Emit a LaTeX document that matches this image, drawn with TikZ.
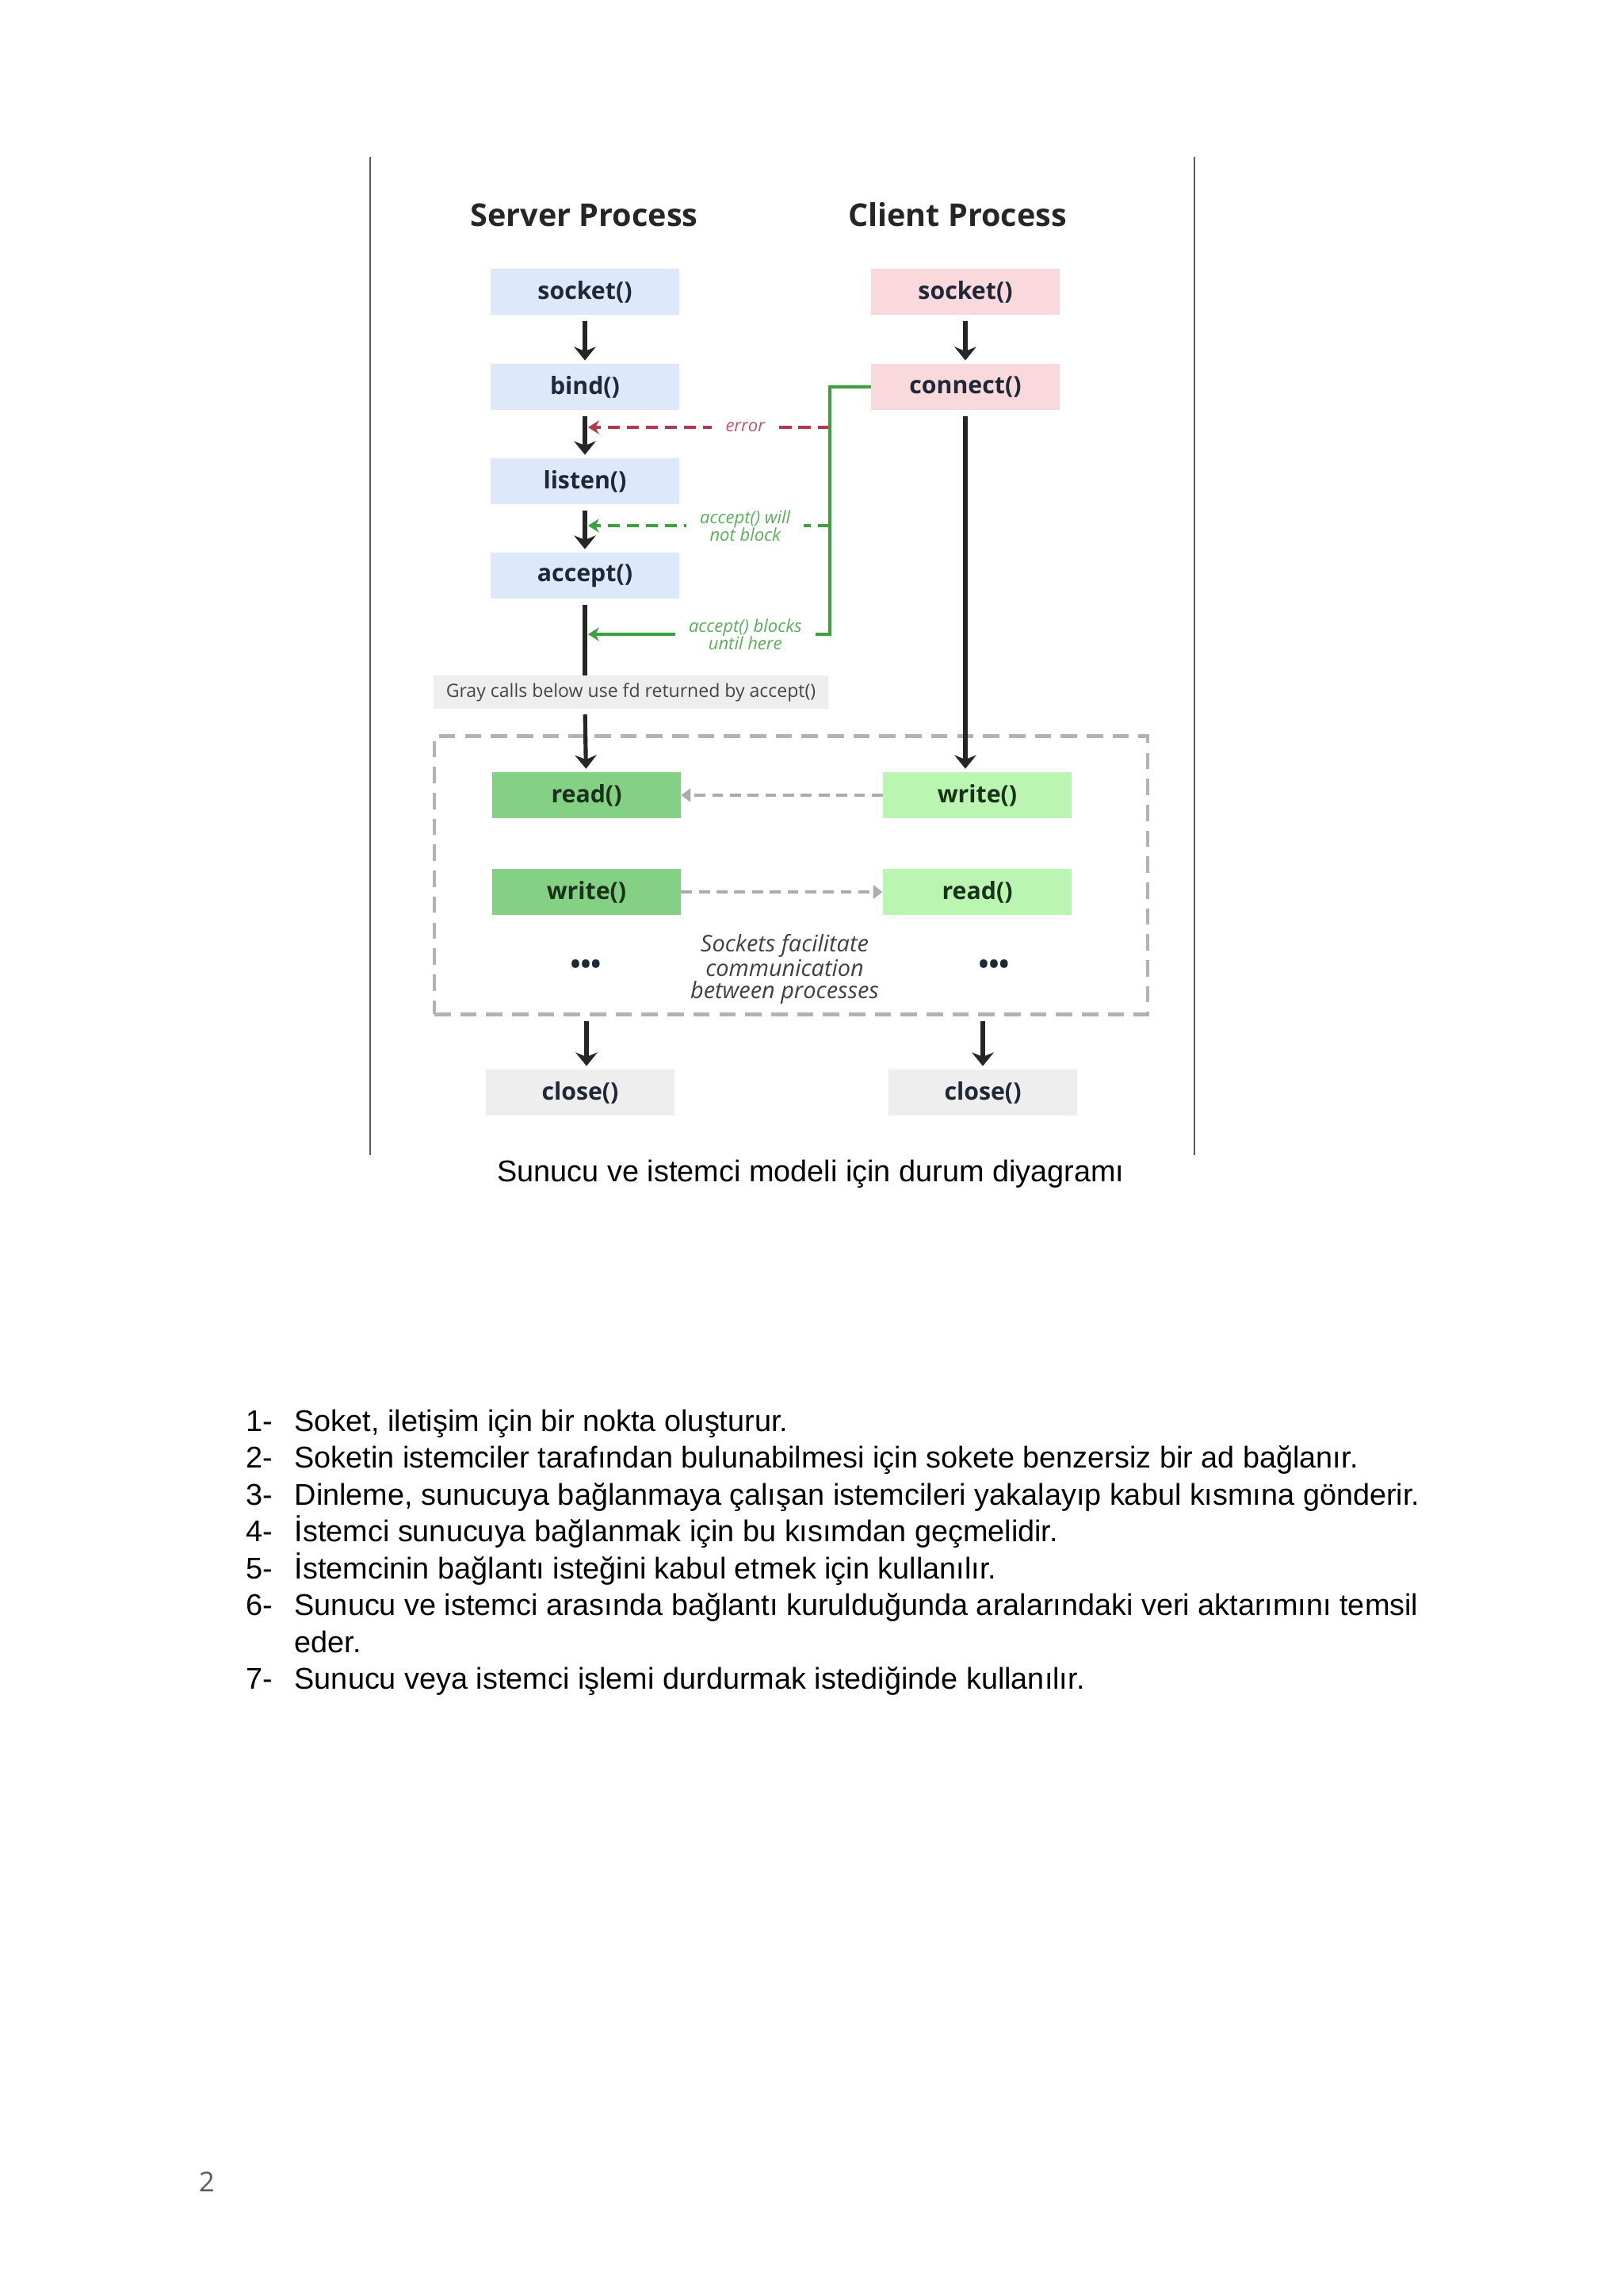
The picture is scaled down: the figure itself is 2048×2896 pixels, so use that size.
\documentclass[tikz,border=0pt]{standalone}
\usepackage{fontspec}
\setmainfont{Liberation Sans}
\newfontfamily\osans{Open Sans}
\usetikzlibrary{arrows.meta}

\definecolor{srvblue}{RGB}{221,232,250}
\definecolor{clipink}{RGB}{250,217,221}
\definecolor{dkgreen}{RGB}{132,208,132}
\definecolor{ltgreen}{RGB}{186,246,178}
\definecolor{boxgray}{RGB}{238,238,238}
\definecolor{ink}{RGB}{30,40,55}
\definecolor{greenink}{RGB}{25,50,25}
\definecolor{lnkgreen}{RGB}{60,160,60}
\definecolor{errred}{RGB}{180,55,75}

\begin{document}
\begin{tikzpicture}[x=0.29066pt, y=-0.29066pt,
  call/.style={rectangle, minimum width=69pt, minimum height=17pt, inner sep=0pt, text=ink, font=\osans\bfseries\fontsize{8.8}{10}\selectfont},
  flow/.style={-{Stealth[length=5pt,width=8pt]}, line width=1.5pt, black!85, shorten <=2pt, shorten >=1pt},
  note/.style={inner xsep=5pt, inner ysep=1.5pt, fill=white, align=center, font=\osans\itshape\fontsize{6.4}{6.4}\selectfont},
  talk/.style={-{Triangle[length=3.5pt,width=5pt]}, dash pattern=on 4pt off 2.5pt, line width=1.3pt, gray!65},
  item/.style={anchor=base west, inner sep=0pt, font=\fontsize{11}{13}\selectfont}]

  \useasboundingbox (0,0) rectangle (2048,2896);

  % frame of the image
  \draw[gray!70!black, line width=0.6pt] (467,198) -- (467,1457);
  \draw[gray!70!black, line width=0.6pt] (1507,198) -- (1507,1457);

  \node[inner sep=0pt, text=black!85, font=\osans\bfseries\fontsize{11.5}{13}\selectfont] (TS) at (737,271) {Server Process};
  \node[inner sep=0pt, text=black!85, font=\osans\bfseries\fontsize{11.5}{13}\selectfont] (TC) at (1208,271) {Client Process};

  % server side
  \node[call, fill=srvblue] (SS) at (738,368) {socket()};
  \node[call, fill=srvblue] (SB) at (738,488) {bind()};
  \node[call, fill=srvblue] (SL) at (738,607) {listen()};
  \node[call, fill=srvblue] (SA) at (738,726) {accept()};

  % client side
  \node[call, fill=clipink] (CS) at (1218,368) {socket()};
  \node[call, fill=clipink] (CC) at (1218,488) {connect()};

  \node[minimum width=144.7pt, minimum height=12pt, inner sep=0pt, fill=boxgray, text=gray!55!black, font=\osans\fontsize{6.7}{7}\selectfont] (G) at (796,873) {Gray calls below use fd returned by accept()};

  \node[draw=gray!60, line width=1.2pt, dash pattern=on 6pt off 3.5pt, minimum width=261.6pt, minimum height=102pt, inner sep=0pt] (D) at (998,1104) {};

  \node[call, fill=dkgreen, text=greenink] (SR) at (740,1003) {read()};
  \node[call, fill=dkgreen, text=greenink] (SW) at (740,1125) {write()};
  \node[call, fill=ltgreen, text=greenink] (CW) at (1233,1003) {write()};
  \node[call, fill=ltgreen, text=greenink] (CR) at (1233,1125) {read()};

  \node[inner sep=0pt, text=ink, font=\osans\bfseries\fontsize{10}{10}\selectfont] (DS) at (739,1220) {•••};
  \node[inner sep=0pt, text=ink, font=\osans\bfseries\fontsize{10}{10}\selectfont] (DC) at (1254,1220) {•••};
  \node[inner sep=0pt, align=center, text=black!75, font=\osans\itshape\fontsize{8.4}{7.9}\selectfont] (N) at (990,1222) {Sockets facilitate\\communication\\between processes};

  \node[call, fill=boxgray] (SC) at (732,1378) {close()};
  \node[call, fill=boxgray] (CX) at (1240,1378) {close()};

  % calls
  \draw[flow] (SS) -- (SB);
  \draw[flow] (SB) -- (SL);
  \draw[flow] (SL) -- (SA);
  \draw[line width=1.5pt, black!85, shorten <=2pt] (SA) -- (SA |- G.north);
  \draw[flow] (SA |- G.south) -- (SR);
  \draw[flow] (CS) -- (CC);
  \draw[flow] (CC) -- (CC |- CW.north);
  \draw[talk] (CW) -- (SR);
  \draw[talk] (SW) -- (CR);
  \draw[flow] (D.south -| SR) -- (SR |- SC.north);
  \draw[flow] (D.south -| CX) -- (CX);

  % connect results
  \coordinate (E1) at (1047,539);
  \coordinate (E2) at (742,539);
  \coordinate (W1) at (1047,663);
  \coordinate (W2) at (742,663);
  \coordinate (K1) at (1047,800);
  \coordinate (K2) at (742,800);
  \draw[errred, line width=1.1pt, dash pattern=on 4.5pt off 2.5pt, -{Stealth[length=4pt,width=5pt]}] (E1) -- node[note, pos=0.35, text=errred!85] {error} (E2);
  \draw[lnkgreen, line width=1.1pt, dash pattern=on 4.5pt off 2.5pt, -{Stealth[length=4pt,width=5pt]}] (W1) -- node[note, pos=0.35, text=lnkgreen!85] {accept() will\\not block} (W2);
  \draw[lnkgreen, line width=1pt, -{Stealth[length=4pt,width=5pt]}] (CC.west) -| (K1) -- node[note, pos=0.35, text=lnkgreen!85] {accept() blocks\\until here} (K2);

  \node[inner sep=0pt, font=\fontsize{11}{13}\selectfont] (CAP) at (1023,1481) {Sunucu ve istemci modeli için durum diyagramı};

  % list
  \node[item] (L1) at (310,1805) {1-};
  \node[item] (T1) at (371,1805) {Soket, iletişim için bir nokta oluşturur.};
  \node[item] (L2) at (310,1851.5) {2-};
  \node[item] (T2) at (371,1851.5) {Soketin istemciler tarafından bulunabilmesi için sokete benzersiz bir ad bağlanır.};
  \node[item] (L3) at (310,1898) {3-};
  \node[item] (T3) at (371,1898) {Dinleme, sunucuya bağlanmaya çalışan istemcileri yakalayıp kabul kısmına gönderir.};
  \node[item] (L4) at (310,1944.5) {4-};
  \node[item] (T4) at (371,1944.5) {İstemci sunucuya bağlanmak için bu kısımdan geçmelidir.};
  \node[item] (L5) at (310,1991) {5-};
  \node[item] (T5) at (371,1991) {İstemcinin bağlantı isteğini kabul etmek için kullanılır.};
  \node[item] (L6) at (310,2037.5) {6-};
  \node[item] (T6) at (371,2037.5) {Sunucu ve istemci arasında bağlantı kurulduğunda aralarındaki veri aktarımını temsil};
  \node[item] (T6b) at (371,2084) {eder.};
  \node[item] (L7) at (310,2130.5) {7-};
  \node[item] (T7) at (371,2130.5) {Sunucu veya istemci işlemi durdurmak istediğinde kullanılır.};

  \node[inner sep=0pt, text=black!65, font=\osans\fontsize{10}{12}\selectfont] (PG) at (261,2752) {2};
\end{tikzpicture}
\end{document}
